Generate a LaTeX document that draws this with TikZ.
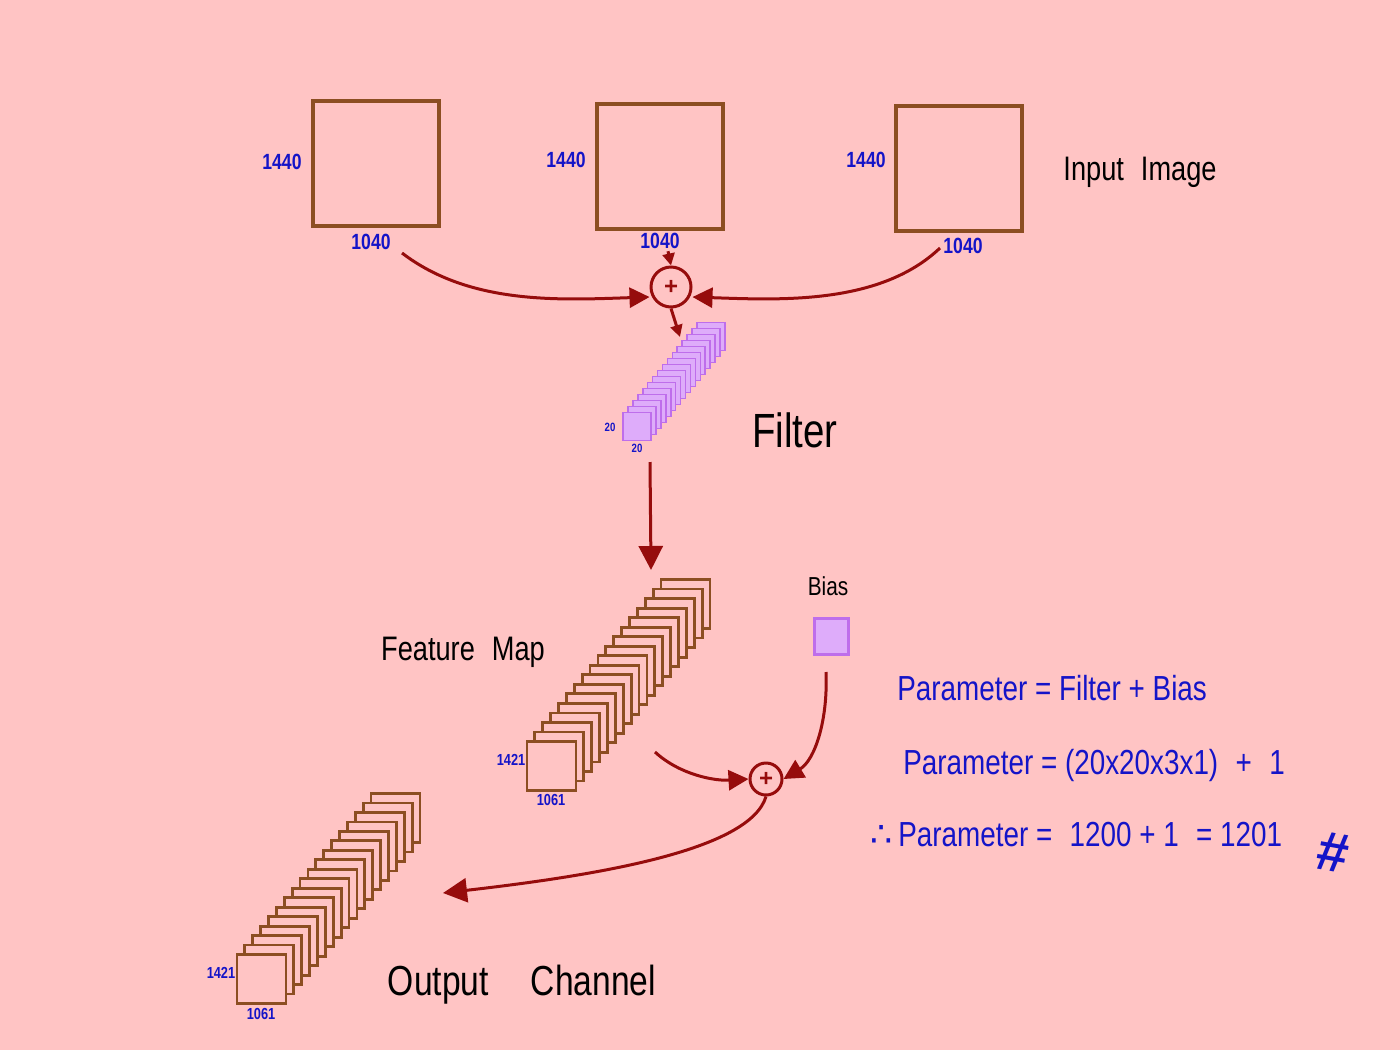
\documentclass[tikz,border=0pt]{standalone}
\usepackage{fontspec}
\setmainfont{Liberation Sans}
\newfontfamily\hand[FakeStretch=0.8]{Liberation Sans}
\newfontfamily\symf{DejaVu Sans}
\usetikzlibrary{arrows.meta}
\definecolor{bg}{RGB}{255,196,196}
\definecolor{brn}{RGB}{140,78,34}
\definecolor{dred}{RGB}{150,12,12}
\definecolor{blu}{RGB}{20,20,200}
\definecolor{pfill}{RGB}{222,172,250}
\definecolor{pdraw}{RGB}{190,110,235}
\begin{document}
\begin{tikzpicture}[x=0.5pt,y=-0.5pt,
  inbox/.style={draw=brn, line width=2pt, minimum width=63pt, minimum height=62.5pt, inner sep=0pt},
  fmsq/.style={draw=brn, fill=bg, line width=1.4pt, minimum size=24.5pt, inner sep=0pt},
  ftsq/.style={draw=pdraw, fill=pfill, line width=0.8pt, minimum size=14pt, inner sep=0pt},
  dimlab/.style={text=blu, font=\hand\bfseries\fontsize{11}{11}\selectfont, inner sep=0pt},
  smlab/.style={text=blu, font=\hand\bfseries\fontsize{8}{8}\selectfont, inner sep=0pt},
  tiny/.style={text=blu, font=\hand\bfseries\fontsize{6}{6}\selectfont, inner sep=0pt},
  title/.style={font=\hand\fontsize{#1}{#1}\selectfont, inner sep=0pt},
  eqn/.style={text=blu, font=\hand\fontsize{17.4}{17.4}\selectfont, inner sep=0pt, anchor=west},
  conn/.style={draw=dred, line width=1.5pt},
  bigtip/.style={-{Triangle[length=10pt,width=10pt]}},
  smalltip/.style={-{Triangle[length=6pt,width=6pt]}},
  sumc/.style={circle, draw=dred, line width=1.5pt, text=dred, font=\bfseries\fontsize{12}{12}\selectfont, inner sep=0pt}
]
\fill[bg] (0,0) rectangle (1400,1050);

% input images
\node[inbox] (in1) at (376,163.5) {};
\node[inbox] (in2) at (660,166) {};
\node[inbox] (in3) at (958.5,168.5) {};
\node[dimlab] (h1) at (282,162) {1440};
\node[dimlab] (h2) at (566,160) {1440};
\node[dimlab] (h3) at (866,160) {1440};
\node[dimlab] (w1) at (371,242) {1040};
\node[dimlab] (w2) at (660,241) {1040};
\node[dimlab] (w3) at (963,246) {1040};
\node[title=17] (inlab) at (1140,172) {Input\enspace Image};

% sum 1
\node[sumc, minimum size=20pt] (s1) at (671,287) {+};
\coordinate (a1) at (402,253);
\coordinate (a3) at (940,248);
\draw[conn,bigtip] (a1) .. controls (470,305) and (560,300) .. (s1.west |- 0,297);
\draw[conn,bigtip] (a3) .. controls (880,305) and (780,300) .. (s1.east |- 0,297);
\draw[conn,smalltip] (w2.south) ++(8,2) coordinate (a2) -- (s1.north);

% filter stack
\foreach \i in {15,14,...,0}{
  \node[ftsq] (f\i) at ({637+\i*74/15},{426.5-\i*90/15}) {};
}
\draw[conn,smalltip] (s1.south) -- (680,337);
\node[tiny] (fh) at (610,427) {20};
\node[tiny] (fw) at (637,448) {20};
\node[title=24] (filt) at (795,430) {Filter};

\coordinate (fa) at (650,462);
\draw[conn,-{Triangle[length=12pt,width=12pt]}] (fa) -- (651,570);

% feature map stack
\foreach \i in {17,16,...,0}{
  \node[fmsq] (m\i) at ({551.5+\i*134/17},{766-\i*162/17}) {};
}
\node[smlab] (mh) at (511,760) {1421};
\node[smlab] (mw) at (551,800) {1061};
\node[title=17] (fmlab) at (463,652) {Feature\enspace Map};

% bias
\node[title=13] (blab) at (828,586) {Bias};
\node[draw=pdraw, fill=pfill, line width=1.5pt, minimum width=17pt, minimum height=18pt, inner sep=0pt] (bias) at (831,636) {};

% sum 2
\node[sumc, minimum size=16pt] (s2) at (766,779) {+};
\coordinate (ma) at (655,752);
\coordinate (ba) at (826,672);
\draw[conn,bigtip] (ma) .. controls (680,775) and (715,781) .. (s2.west);
\draw[conn,bigtip] (ba) .. controls (828,720) and (815,760) .. (s2.east);

% output stack
\foreach \i in {17,16,...,0}{
  \node[fmsq] (o\i) at ({261.5+\i*134/17},{979-\i*161/17}) {};
}
\node[smlab] (oh) at (221,973) {1421};
\node[smlab] (ow) at (261,1014) {1061};
\draw[conn,-{Triangle[length=12pt,width=12pt]}] (s2.south) .. controls (750,850) and (600,875) .. (443,893);
\node[title=21] (outlab) at (522,985) {Output\quad Channel};

% equations
\node[eqn] (e1) at (897,688) {Parameter = Filter + Bias};
\node[eqn] (e2) at (903,765) {Parameter = (20x20x3x1)\enspace +\enspace 1};
\node[eqn] (e3) at (870,835) {{\symf ∴}\,Parameter =\enspace 1200 + 1\enspace = 1201};
\node[text=blu, font=\fontsize{28}{28}\selectfont\bfseries, inner sep=0pt, rotate=-10] (hash) at (1333,852) {\#};
\end{tikzpicture}
\end{document}
